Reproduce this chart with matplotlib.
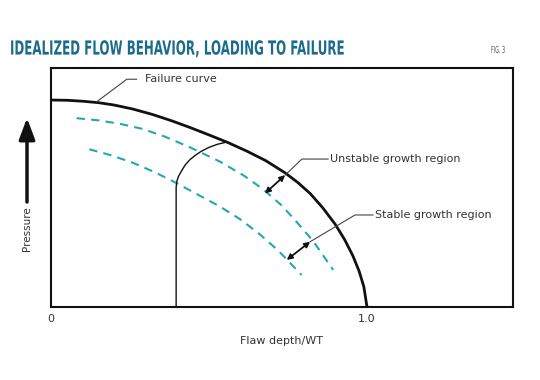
import matplotlib
matplotlib.use("Agg")
import matplotlib.pyplot as plt
from matplotlib.font_manager import FontProperties
from matplotlib.patheffects import AbstractPathEffect
from matplotlib.transforms import Affine2D

# ---- data ----
failure_x = [0.0, 0.05, 0.10, 0.15, 0.20, 0.26, 0.32, 0.38, 0.44, 0.50, 0.56, 0.62,
             0.68, 0.74, 0.78, 0.82, 0.86, 0.90, 0.93, 0.955, 0.975, 0.99, 1.0]
failure_y = [0.866, 0.865, 0.861, 0.855, 0.845, 0.828, 0.806, 0.780, 0.751, 0.720, 0.688, 0.652,
             0.612, 0.562, 0.522, 0.475, 0.415, 0.345, 0.280, 0.215, 0.150, 0.085, 0.0]

branch_x = [0.396, 0.396, 0.398, 0.403, 0.412, 0.425, 0.44, 0.457, 0.475, 0.50, 0.527, 0.556]
branch_y = [0.0, 0.500, 0.525, 0.545, 0.567, 0.595, 0.617, 0.635, 0.651, 0.668, 0.681, 0.690]

upper_x = [0.081, 0.15, 0.22, 0.29, 0.36, 0.44, 0.535, 0.61, 0.672, 0.73, 0.778, 0.83, 0.893]
upper_y = [0.790, 0.781, 0.766, 0.745, 0.713, 0.668, 0.608, 0.550, 0.492, 0.425, 0.355, 0.275, 0.155]

lower_x = [0.121, 0.19, 0.26, 0.33, 0.398, 0.465, 0.535, 0.60, 0.66, 0.72, 0.793]
lower_y = [0.660, 0.635, 0.603, 0.563, 0.518, 0.470, 0.420, 0.366, 0.305, 0.235, 0.134]

tick_vals = [0.0, 1.0]
tick_labels = ["0", "1.0"]

unstable_arrow = [(0.677, 0.475), (0.741, 0.552)]
stable_arrow = [(0.746, 0.197), (0.820, 0.273)]

title = "IDEALIZED FLOW BEHAVIOR, LOADING TO FAILURE"
fig_label = "FIG. 3"
xlabel = "Flaw depth/WT"
ylabel = "Pressure"

body = "DejaVu Sans"


class Stretch(AbstractPathEffect):
    """Draw text glyphs scaled by (sx, sy) about a fixed display point (x0, y0)."""
    def __init__(self, sx, sy, x0, y0):
        super().__init__()
        self.sx, self.sy, self.x0, self.y0 = sx, sy, x0, y0

    def draw_path(self, renderer, gc, tpath, affine, rgbFace=None):
        aff = affine + (Affine2D().translate(-self.x0, -self.y0)
                        .scale(self.sx, self.sy).translate(self.x0, self.y0))
        renderer.draw_path(gc, tpath, aff, rgbFace)


W, H = 540, 380
fig = plt.figure(figsize=(W / 100, H / 100), dpi=100)
ax = fig.add_axes([51 / W, (H - 307) / H, (513 - 51) / W, (307 - 68) / H])
ax.set_xlim(0, 1.462)
ax.set_ylim(0, 1.0)
for s in ax.spines.values():
    s.set_linewidth(1.5)
    s.set_color("#111111")

teal = "#22a7b8"
ax.plot(upper_x, upper_y, color=teal, lw=1.5, dashes=(4, 3))
ax.plot(lower_x, lower_y, color=teal, lw=1.5, dashes=(4, 3))
ax.plot(branch_x, branch_y, color="#111111", lw=1.0, solid_capstyle="butt")
ax.plot(failure_x, failure_y, color="#111111", lw=2.0, solid_joinstyle="round")

for a in (unstable_arrow, stable_arrow):
    ax.annotate("", xy=a[1], xytext=a[0],
                arrowprops=dict(arrowstyle="<|-|>", lw=1.3, color="#111111",
                                mutation_scale=8, shrinkA=0, shrinkB=0))

lead = dict(color="#444444", lw=0.8)
txt = dict(fontsize=8, color="#333333", family=body, va="center", ha="left")
ax.plot([0.145, 0.240, 0.271], [0.859, 0.953, 0.953], **lead)
ax.text(0.297, 0.953, "Failure curve", **txt)
ax.plot([0.741, 0.794, 0.877], [0.552, 0.619, 0.619], **lead)
ax.text(0.883, 0.619, "Unstable growth region", **txt)
ax.plot([0.820, 0.962, 1.019], [0.273, 0.385, 0.385], **lead)
ax.text(1.025, 0.385, "Stable growth region", **txt)

ax.set_xticks(tick_vals)
ax.set_xticklabels(tick_labels, family=body, fontsize=8, color="#333333")
ax.set_yticks([])
ax.tick_params(axis="x", length=0, pad=5)
ax.set_xlabel(xlabel, family=body, fontsize=8, color="#333333", labelpad=9)

fig.text(27 / W, 1 - 229 / H, ylabel, rotation=90, ha="center", va="center",
         family=body, fontsize=7.5, color="#333333")
fig.patches.append(matplotlib.patches.FancyArrowPatch(
    (27 / W, 1 - 202 / H), (27 / W, 1 - 118 / H), transform=fig.transFigure,
    arrowstyle="-|>,head_length=1.6,head_width=0.6", lw=2.5, color="#111111",
    mutation_scale=8, shrinkA=0, shrinkB=0))

renderer = fig.canvas.get_renderer()

# title: tall bold condensed caps spanning ~10..345 px, centred at y=49 px
base = 10.0
tprops = FontProperties(family="DejaVu Sans", weight="bold", size=base)
ty = H - 49
t = fig.text(10 / W, ty / H, title, ha="left", va="center",
             fontproperties=tprops, color="#1d6b8c")
wpx = t.get_window_extent(renderer).width
t.set_path_effects([Stretch(335.0 / wpx, 14.0 / base, 10.0, ty)])

fprops = FontProperties(family="DejaVu Sans", size=7)
fy = H - 50
f3 = fig.text(491 / W, fy / H, fig_label, ha="left", va="center",
              fontproperties=fprops, color="#555555")
fw = f3.get_window_extent(renderer).width
f3.set_path_effects([Stretch(14.0 / fw, 1.0, 491.0, fy)])

fig.savefig("out.png", dpi=100)
